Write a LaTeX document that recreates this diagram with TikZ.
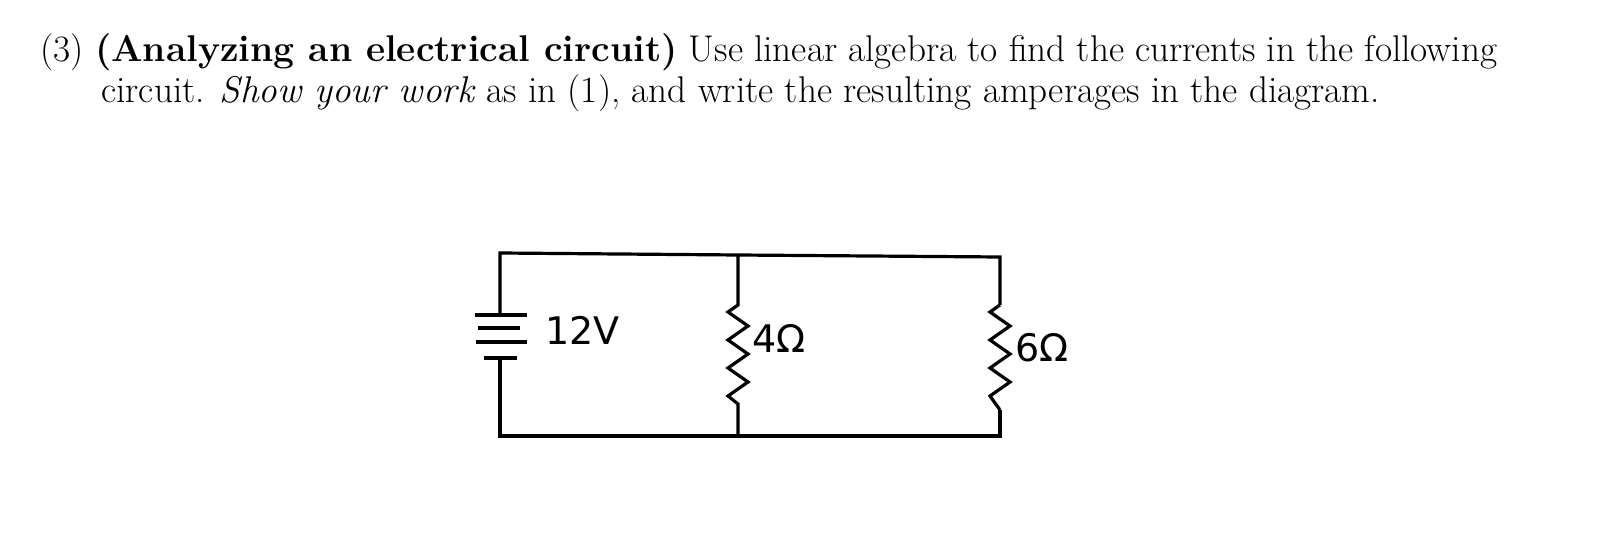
\documentclass[tikz,border=0pt]{standalone}
\usepackage{fontspec}
\newfontfamily\hand{DejaVu Sans}[Scale=1]
\begin{document}
\begin{tikzpicture}[x=0.5pt,y=-0.5pt,
  wire/.style={line width=1.6pt},
  lbl/.style={font=\hand\fontsize{19}{19}\selectfont, anchor=west, inner sep=0pt},
  txt/.style={anchor=base west, inner sep=0pt, font=\fontsize{18.6}{20.5}\selectfont}]
\useasboundingbox (0,0) rectangle (1614,534);
\node[txt] (l1) at (40,62) {(3) \textbf{(Analyzing an electrical circuit)} Use linear algebra to find the currents in the following};
\node[txt] (l2) at (101,103) {circuit. \textit{Show your work} as in (1), and write the resulting amperages in the diagram.};
\coordinate (tl) at (500,253); \coordinate (tm) at (738,255); \coordinate (tr) at (1000,257);
\coordinate (bl) at (500,436); \coordinate (bm) at (738,436); \coordinate (br) at (1000,436);
\coordinate (b1) at (500,315); \coordinate (b4) at (500,358);
\draw[wire] (b1) -- (tl) -- (tm) -- (tr) -- (1000,305);
\draw[wire] (b4) -- (bl) -- (bm) -- (br) -- (1000,410);
\draw[wire] (475,315) -- (527,315);
\draw[wire] (478,328) -- (520,328);
\draw[wire] (476,342) -- (527,342);
\draw[wire] (484,358) -- (517,358);
\draw[wire] (tm) -- (738,305) -- (728,312) -- (748,326) -- (728,340) -- (748,354) -- (728,368) -- (748,382) -- (728,396) -- (738,404) -- (bm);
\draw[wire] (1000,305) -- (990,312) -- (1010,326) -- (990,340) -- (1010,354) -- (990,368) -- (1010,382) -- (990,396) -- (1000,410);
\node[lbl] (v) at (545,330) {12V};
\node[lbl] (r1) at (752,338) {4Ω};
\node[lbl] (r2) at (1015,348) {6Ω};
\end{tikzpicture}
\end{document}
